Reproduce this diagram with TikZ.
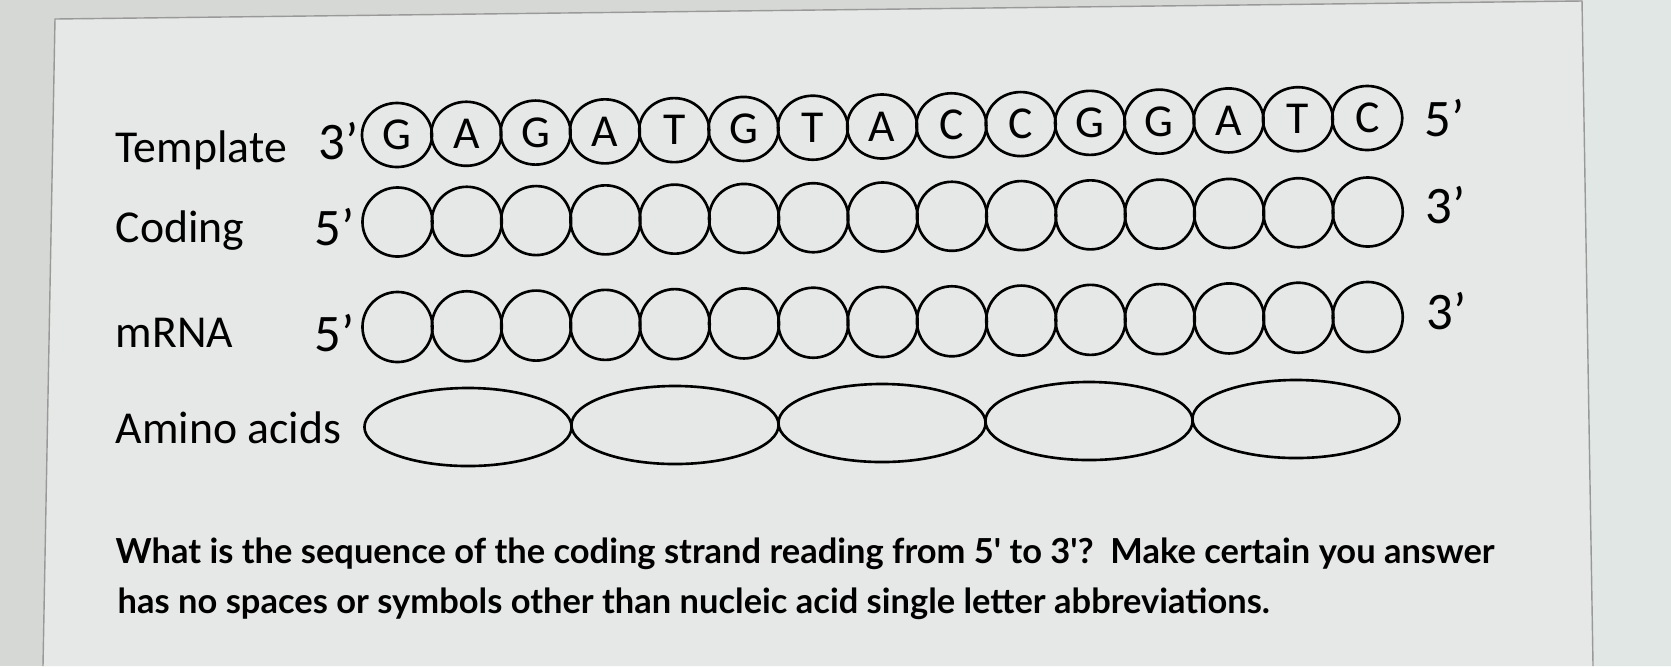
\documentclass[tikz,border=0pt]{standalone}
\usepackage{fontspec}
\setmainfont{Carlito}
\newfontfamily\qfont{Lato}[Ligatures=TeXOff]
\usetikzlibrary{shapes.geometric,positioning}
\definecolor{screen}{RGB}{229,232,230}
\definecolor{bezel}{RGB}{214,216,213}
\definecolor{strip}{RGB}{224,231,229}
\tikzset{
  base/.style={ellipse,draw,line width=0.75pt,minimum width=0.70cm,minimum height=0.64cm,inner sep=0pt,
    font=\fontsize{13}{15}\selectfont},
  nuc/.style={ellipse,draw,line width=0.75pt,minimum width=0.70cm,minimum height=0.69cm,inner sep=0pt},
  amino/.style={ellipse,draw,line width=0.75pt,minimum width=2.07cm,minimum height=0.78cm,inner sep=0pt},
  rowlabel/.style={anchor=base west,inner sep=0pt,font=\fontsize{13}{15}\selectfont},
  prime/.style={inner sep=0pt,font=\fontsize{15}{17}\selectfont},
  question/.style={anchor=base west,inner sep=0pt,font=\qfont\bfseries\fontsize{9.8}{12}\selectfont},
}
\begin{document}
\begin{tikzpicture}[x=0.01cm,y=-0.01cm]
  % screen and bezel
  \useasboundingbox (0,0) rectangle (1671,666);
  \fill[bezel] (0,0) rectangle (1671,666);
  \fill[screen] (55,19) -- (1582,1) -- (1593,666) -- (43,666) -- cycle;
  \fill[strip] (1582,0) -- (1671,0) -- (1671,666) -- (1593,666) -- cycle;
  \draw[gray!80,line width=0.4pt] (43,666) -- (55,19) -- (1582,1) -- (1593,666);

  % row labels
  \node[rowlabel] (ltemp) at (115,162) {Template};
  \node[rowlabel] (lcode) at (115,242) {Coding};
  \node[rowlabel] (lmrna) at (115,347) {mRNA};
  \node[rowlabel] (lamino) at (115,443) {Amino acids};

  % template strand
  \foreach \b [count=\i] in {G,A,G,A,T,G,T,A,C,C,G,G,A,T,C}
    \node[base] (t\i) at ({397+69.3*(\i-1)},{135-17*(\i-1)/14}) {\b};
  % coding strand and mRNA
  \foreach \i in {1,...,15} {
    \node[nuc] (c\i) at ({397.5+69.3*(\i-1)},{222-10*(\i-1)/14}) {};
    \node[nuc,minimum height=0.70cm] (m\i) at ({397.5+69.3*(\i-1)},{327-10*(\i-1)/14}) {};
  }
  % amino acids
  \foreach \i in {1,...,5}
    \node[amino] (a\i) at ({468+207*(\i-1)},{427-8*(\i-1)/4}) {};

  % ends
  \node[prime,anchor=east] (t5) at (359,141) {3’};
  \node[prime,anchor=west] (t3) at (1424,118) {5’};
  \node[prime,anchor=east] (c5) at (355,227) {5’};
  \node[prime,anchor=west] (c3) at (1425,205) {3’};
  \node[prime,anchor=east] (m5) at (355,333) {5’};
  \node[prime,anchor=west] (m3) at (1426,311) {3’};

  % question
  \node[question] (q1) at (115,563) {What is the sequence of the coding strand reading from 5' to 3'?\ \ Make certain you answer};
  \node[question] (q2) at (117,613) {has no spaces or symbols other than nucleic acid single letter abbreviations.};
\end{tikzpicture}
\end{document}
